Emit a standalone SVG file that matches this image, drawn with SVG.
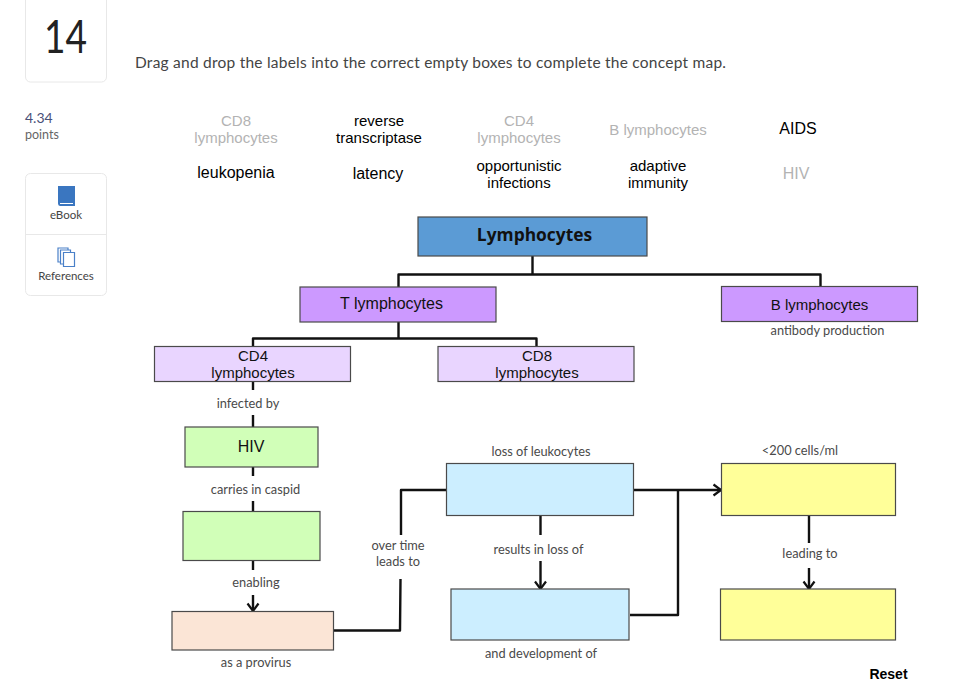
<svg xmlns="http://www.w3.org/2000/svg" width="955" height="698" viewBox="0 0 955 698">
<style>
text{font-family:"Liberation Sans",Arial,sans-serif;text-anchor:middle}
.l{font-size:16px;fill:#000}
.g{font-size:16px;fill:#b3b3b3}
.n{font-size:15px;fill:#111}
.s{font-size:15px}
.c{font-family:"Lato","Open Sans",sans-serif;font-size:12.800px;fill:#4a4a4a}
.ui{font-family:"Lato","Open Sans",sans-serif}
.box{stroke:#4a4a4a;stroke-width:1.200}
.e{fill:none;stroke:#111;stroke-width:2.400;stroke-linejoin:round}
.card{fill:#fff;stroke:#e8e8e8;stroke-width:1}
</style>
<defs>
<marker id="arrow" markerUnits="userSpaceOnUse" markerWidth="14" markerHeight="14" refX="11" refY="7" orient="auto">
<path d="M3.500 1.500L11 7L3.500 12.500" fill="none" stroke="#111" stroke-width="2.200"/>
</marker>
</defs>
<rect width="955" height="698" fill="#fff"/>
<g id="sidebar">
<path class="card" d="M25.500 -2V77a5 5 0 0 0 5 5H101.500a5 5 0 0 0 5 -5V-2Z"/>
<text class="ui" x="65.500" y="53" textLength="43" lengthAdjust="spacingAndGlyphs" style="font-size:46px;fill:#222">14</text>
<text class="ui" x="25" y="123" style="font-size:14px;fill:#4a5078;text-anchor:start">4.34</text>
<text class="ui" x="25" y="139" style="font-size:12.500px;fill:#666;text-anchor:start">points</text>
<rect class="card" x="25.500" y="173.500" width="81" height="122" rx="5"/>
<path d="M26 234.500H106" stroke="#e8e8e8"/>
<path d="M58 186H75V206H60a2.500 2.500 0 0 1 -2 -2.500Z" fill="#3a76c0"/>
<path d="M60 203.500H73" stroke="#fff" stroke-width="1"/>
<text class="ui" x="66" y="219" style="font-size:11.500px;fill:#444">eBook</text>
<path d="M58 248H68V262H58Z" fill="#fff" stroke="#4a80c8" stroke-width="1.200"/>
<path d="M60.500 250H70.500V264H60.500Z" fill="#fff" stroke="#4a80c8" stroke-width="1.200"/>
<path d="M63.500 252.500H74.500V266.500H63.500Z" fill="#fff" stroke="#4a80c8" stroke-width="1.200"/>
<text class="ui" x="66" y="280" style="font-size:11.500px;fill:#444">References</text>
</g>
<text class="ui" x="135" y="68" textLength="591" style="font-size:15.500px;fill:#444;text-anchor:start">Drag and drop the labels into the correct empty boxes to complete the concept map.</text>
<g id="labels">
<text class="g s" x="236" y="126">CD8</text><text class="g s" x="236" y="143">lymphocytes</text>
<text class="l s" x="379" y="126">reverse</text><text class="l s" x="379" y="143">transcriptase</text>
<text class="g s" x="519" y="126">CD4</text><text class="g s" x="519" y="143">lymphocytes</text>
<text class="g s" x="658" y="135">B lymphocytes</text>
<text class="l" x="798" y="134">AIDS</text>
<text class="l" x="236" y="178">leukopenia</text>
<text class="l" x="378" y="179">latency</text>
<text class="l s" x="519" y="171">opportunistic</text><text class="l s" x="519" y="188">infections</text>
<text class="l s" x="658" y="171">adaptive</text><text class="l s" x="658" y="188">immunity</text>
<text class="g" x="796" y="179">HIV</text>
</g>
<g id="connectors">
<path class="e" d="M532.500 256V274M398.500 287V274.500H820.500V287"/>
<path class="e" d="M398.500 322V338M253 346V338.500H536.500V346"/>
<path class="e" d="M253 382V390M253 415V427"/>
<path class="e" d="M253 467V476M253 501V511"/>
<path class="e" d="M253 560V570"/>
<path class="e" d="M253 595V611" marker-end="url(#arrow)"/>
<path class="e" d="M333 630.500H400L400.500 579M401 535V490H446"/>
<path class="e" d="M540.500 516V535"/>
<path class="e" d="M540.500 561V589" marker-end="url(#arrow)"/>
<path class="e" d="M634 490H721" marker-end="url(#arrow)"/>
<path class="e" d="M630 615H678V490"/>
<path class="e" d="M809 516V543"/>
<path class="e" d="M809 568V589" marker-end="url(#arrow)"/>
</g>
<g id="lymphocytes">
<rect class="box" x="418" y="217" width="229" height="39" fill="#5b9bd5"/>
<text x="534.500" y="241" style="font-family:'Open Sans',sans-serif;font-size:17.400px;font-weight:700;fill:#111">Lymphocytes</text>
</g>
<g id="t-lymphocytes">
<rect class="box" x="300" y="287" width="196" height="35" fill="#cc99ff"/>
<text class="n" x="391.500" y="309" style="font-size:16px">T lymphocytes</text>
</g>
<g id="b-lymphocytes">
<rect class="box" x="721.500" y="286.500" width="196" height="35" fill="#cc99ff"/>
<text class="n" x="819.500" y="310">B lymphocytes</text>
<text class="c" x="827.500" y="335">antibody production</text>
</g>
<g id="cd4">
<rect class="box" x="154.500" y="346.500" width="196" height="35" fill="#e9d5ff"/>
<text class="n" x="253" y="361">CD4</text><text class="n" x="253" y="378">lymphocytes</text>
</g>
<g id="cd8">
<rect class="box" x="438" y="346.500" width="196" height="35" fill="#e9d5ff"/>
<text class="n" x="537" y="361">CD8</text><text class="n" x="537" y="378">lymphocytes</text>
</g>
<g id="hiv">
<rect class="box" x="185" y="427" width="133" height="40" fill="#d1ffb8"/>
<text class="n" x="251" y="452" style="font-size:16px">HIV</text>
</g>
<g id="green-empty"><rect class="box" x="183" y="511.500" width="137" height="49" fill="#d1ffb8"/></g>
<g id="peach-empty">
<rect class="box" x="172" y="611.500" width="161.500" height="38.500" fill="#fbe5d6"/>
<text class="c" x="256" y="666.500">as a provirus</text>
</g>
<g id="blue-top">
<rect class="box" x="446.500" y="463.500" width="187" height="52" fill="#cceeff"/>
<text class="c" x="541" y="455.500">loss of leukocytes</text>
</g>
<g id="blue-bottom">
<rect class="box" x="451" y="589" width="178" height="51" fill="#cceeff"/>
<text class="c" x="541" y="657.500">and development of</text>
</g>
<g id="yellow-top">
<rect class="box" x="721.500" y="463.500" width="174" height="52" fill="#ffff99"/>
<text class="c" x="800" y="455">&lt;200 cells/ml</text>
</g>
<g id="yellow-bottom"><rect class="box" x="720.500" y="589" width="175" height="51" fill="#ffff99"/></g>
<g id="connector-labels">
<text class="c" x="248" y="407.500">infected by</text>
<text class="c" x="255.500" y="493.500">carries in caspid</text>
<text class="c" x="256" y="586.500">enabling</text>
<text class="c" x="398" y="550">over time</text><text class="c" x="398" y="565.500">leads to</text>
<text class="c" x="538.500" y="553.500">results in loss of</text>
<text class="c" x="810" y="558">leading to</text>
</g>
<text x="888.500" y="679" style="font-size:14px;font-weight:700;fill:#000">Reset</text>
</svg>
